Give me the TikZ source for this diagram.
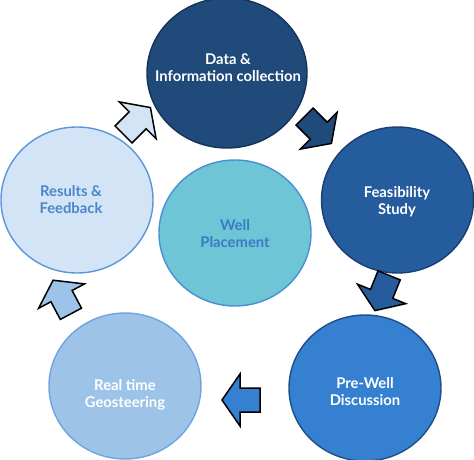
\documentclass[tikz,border=0pt]{standalone}
\usepackage{fontspec}
\setmainfont{Lato}
\usetikzlibrary{shapes.geometric}
\definecolor{cData}{HTML}{1F4A7A}
\definecolor{cDataL}{HTML}{14335A}
\definecolor{cFeas}{HTML}{245C9E}
\definecolor{cFeasL}{HTML}{1A3F6C}
\definecolor{cPre}{HTML}{3680D2}
\definecolor{cPreL}{HTML}{1F4E85}
\definecolor{cRT}{HTML}{9DC3E8}
\definecolor{cRTL}{HTML}{6FA3DC}
\definecolor{cRes}{HTML}{D3E4F7}
\definecolor{cResL}{HTML}{5B96D8}
\definecolor{cResT}{HTML}{4A86C8}
\definecolor{cWell}{HTML}{6EC5D6}
\definecolor{cWellL}{HTML}{4A8ED4}
\definecolor{cWellT}{HTML}{3A7CC4}
\tikzset{
  stage/.style={ellipse, inner sep=0pt, minimum width=152pt, minimum height=146pt,
    line width=1.4pt},
  txt/.style={align=center, inner sep=0pt, font=\bfseries\fontsize{14.8}{17}\selectfont},
  arrowline/.style={draw=black, line width=1.5pt, line join=miter},
  pics/blockarrow/.style={code={
    \draw[arrowline, fill=#1] (-19,-12) -- (1,-12) -- (1,-26) -- (19,0) -- (1,26) -- (1,12) -- (-19,12) -- cycle;}}
}
\begin{document}
\begin{tikzpicture}[x=1pt,y=-1pt]
\useasboundingbox (0,0) rectangle (474,460);
\clip (0,0) rectangle (474,460);
% circles
\node[stage, fill=cData, draw=cDataL, minimum width=160pt, minimum height=150pt] (data) at (227,73) {};
\node[stage, fill=cFeas, draw=cFeasL] (feas) at (397.5,200) {};
\node[stage, fill=cPre, draw=cPreL] (pre) at (365,388) {};
\node[stage, fill=cRT, draw=cRTL] (rt) at (125,386) {};
\node[stage, fill=cRes, draw=cResL] (res) at (77,200) {};
\node[stage, fill=cWell, draw=cWellL] (well) at (235,233) {};
% texts
\node[txt, text=white] (tdata) at (228,68) {Data \&\\Information collection};
\node[txt, text=white] (tfeas) at (397,202) {Feasibility\\Study};
\node[txt, text=white] (tpre) at (365,392) {Pre-Well\\Discussion};
\node[txt, text=white] (trt) at (125,395) {Real time\\Geosteering};
\node[txt, text=cResT] (tres) at (71,200) {Results \&\\Feedback};
\node[txt, text=cWellT] (twell) at (235,234) {Well\\Placement};
% block arrows
\pic[rotate=-45] (a1) at (318,130) {blockarrow=cData};
\pic[rotate=-112] (a2) at (382,293) {blockarrow=cFeas};
\pic[rotate=180] (a3) at (241,400) {blockarrow=cPre};
\pic[rotate=118] (a4) at (62,297) {blockarrow=cRT};
\pic[rotate=45] (a5) at (137,121) {blockarrow=cRes};
\end{tikzpicture}
\end{document}
